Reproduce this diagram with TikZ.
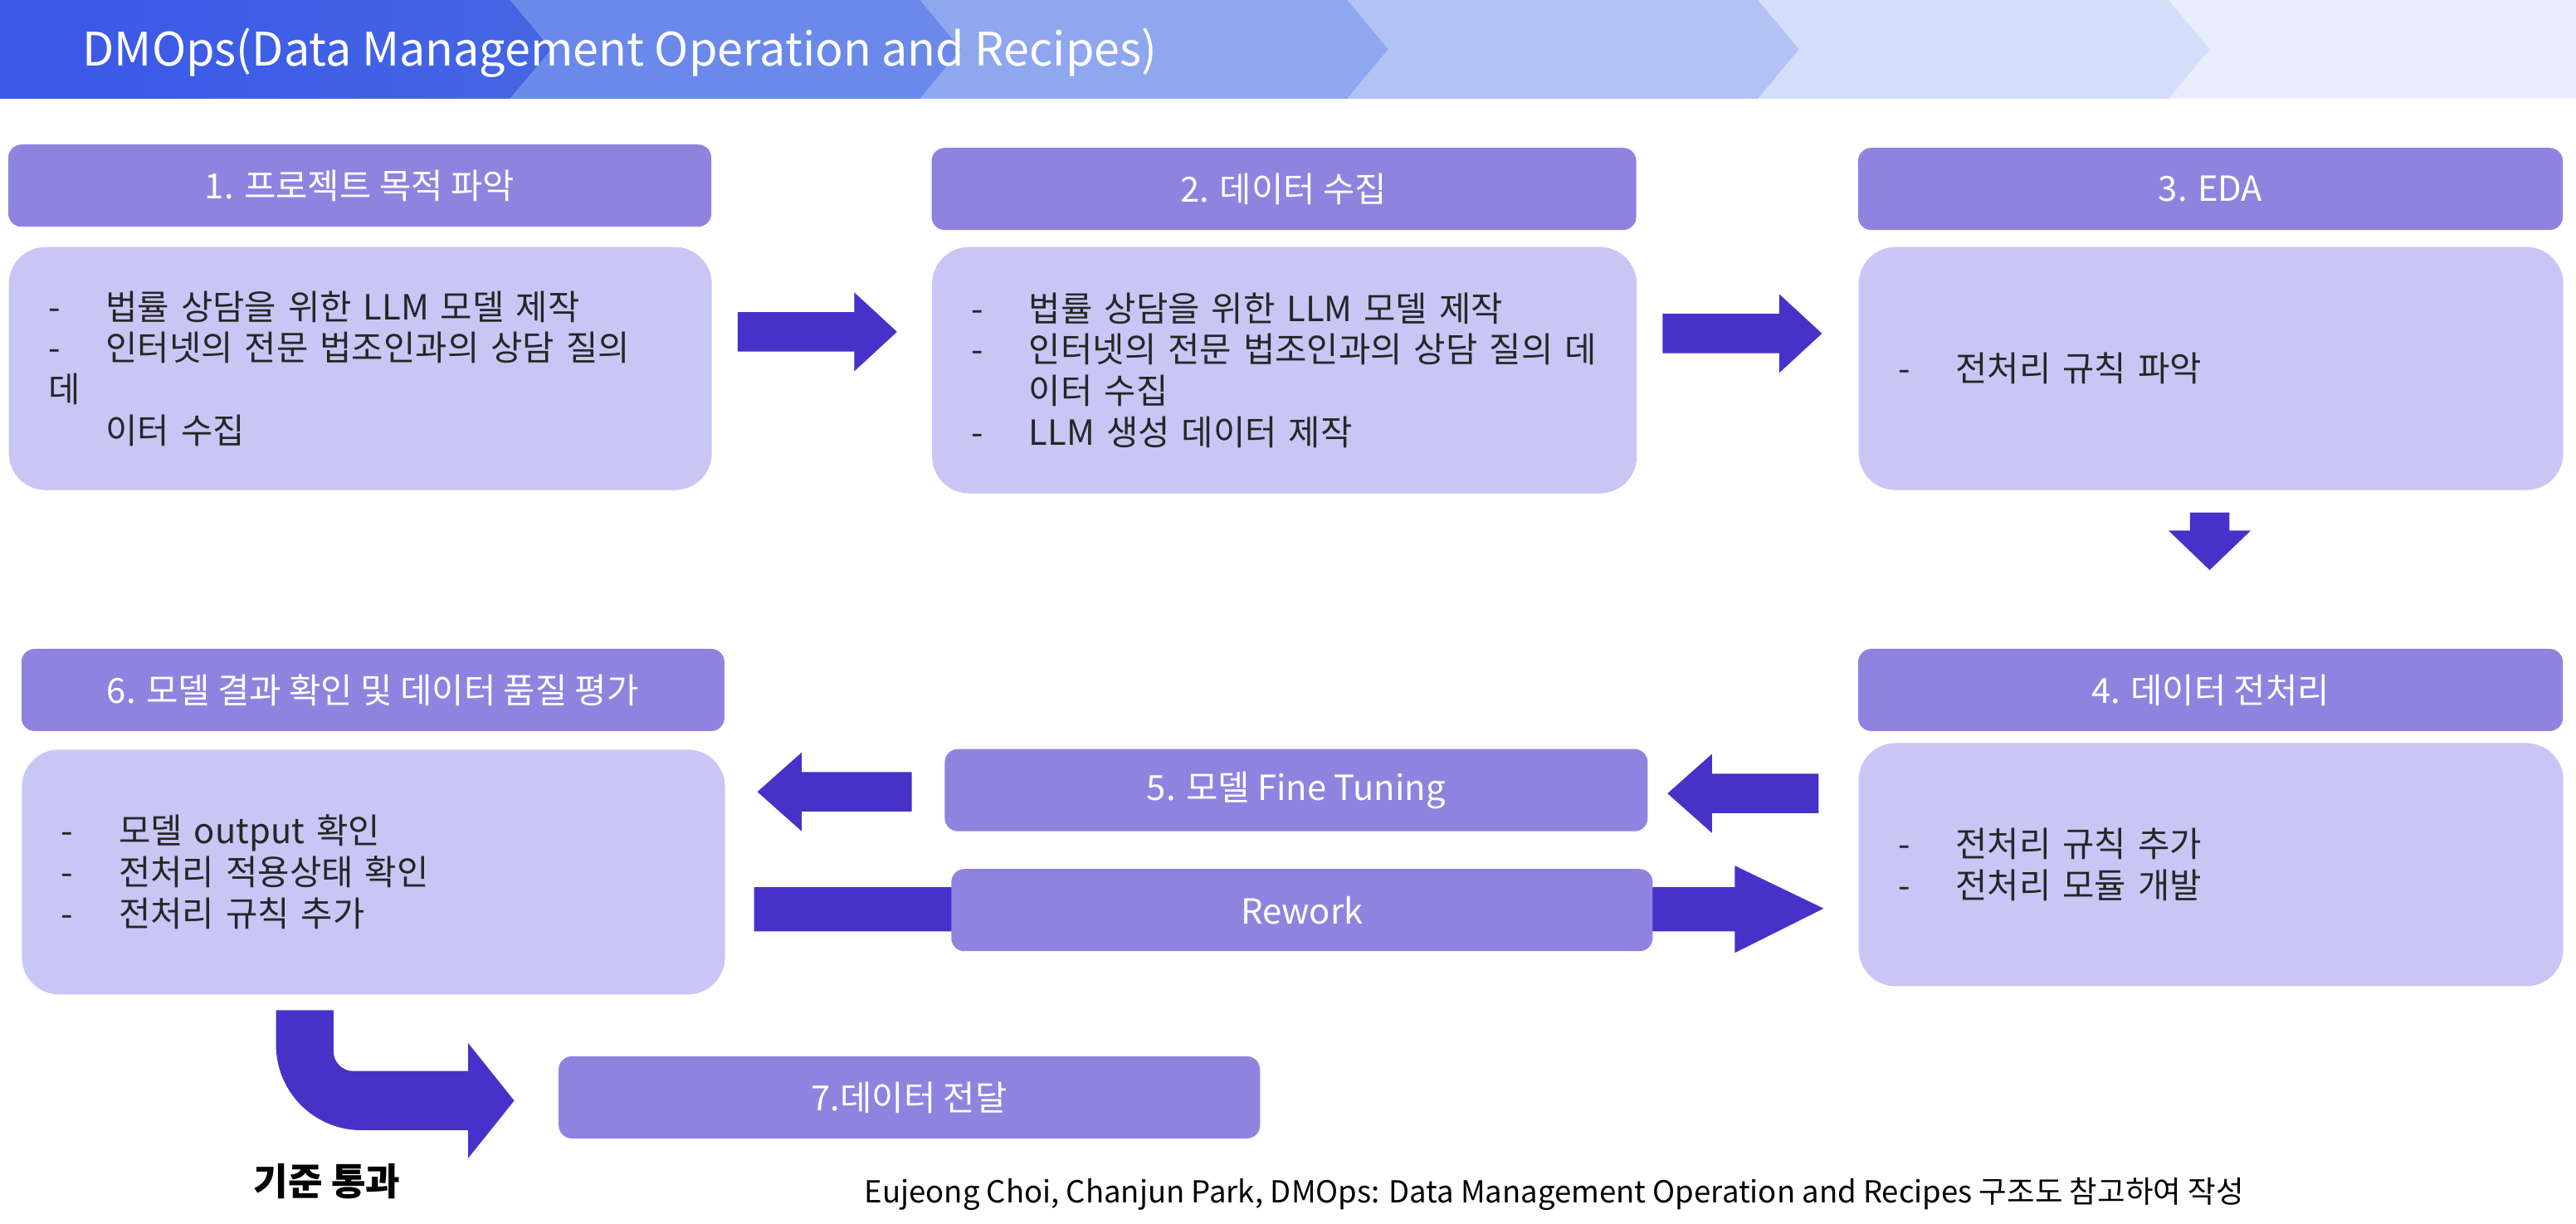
\documentclass[tikz,border=0pt]{standalone}
\usepackage{fontspec}
\setmainfont{Noto Sans CJK KR}
\definecolor{hd}{HTML}{8F83E0}
\definecolor{bd}{HTML}{C9C6F5}
\definecolor{ar}{HTML}{4632C8}
\definecolor{c1}{HTML}{4466E4}
\definecolor{c2}{HTML}{6A89EA}
\definecolor{c3}{HTML}{8EA7EF}
\definecolor{c4}{HTML}{B2C2F4}
\definecolor{c5}{HTML}{D4DDF9}
\definecolor{c6}{HTML}{EAEEFC}
\newcommand{\bl}[1]{\makebox[0.7cm][l]{-}#1}
\newcommand{\ct}{\hspace*{0.7cm}}
\begin{document}
\begin{tikzpicture}[x=0.02cm,y=-0.02cm,
  hdr/.style={fill=hd,rounded corners=0.16cm,minimum height=1cm,text=white,font=\fontsize{12}{14}\selectfont,inner sep=0},
  body/.style={fill=bd,rounded corners=0.45cm,text=black!85,font=\fontsize{12}{14.3}\selectfont,align=left,inner xsep=0.48cm,inner ysep=0,anchor=north west},
  blk/.style={fill=ar,draw=none}]
\useasboundingbox (0,0) rectangle (1568,745);
% header chevrons
\fill[c6] (1320,0) -- (1568,0) -- (1568,60) -- (1320,60) -- (1345,30) -- cycle;
\fill[c5] (1070,0) -- (1320,0) -- (1345,30) -- (1320,60) -- (1070,60) -- (1095,30) -- cycle;
\fill[c4] (820,0) -- (1070,0) -- (1095,30) -- (1070,60) -- (820,60) -- (845,30) -- cycle;
\fill[c3] (560,0) -- (820,0) -- (845,30) -- (820,60) -- (560,60) -- (585,30) -- cycle;
\fill[c2] (310,0) -- (560,0) -- (585,30) -- (560,60) -- (310,60) -- (335,30) -- cycle;
\fill[left color=c1!85!blue, right color=c1] (0,0) -- (310,0) -- (335,30) -- (310,60) -- (0,60) -- cycle;
\node[anchor=west,text=white,font=\fontsize{16}{18}\selectfont,inner sep=0] (title) at (50,32) {DMOps(Data Management Operation and Recipes)};
% headers
\node[hdr,minimum width=8.56cm] (h1) at (219,113) {1. 프로젝트 목적 파악};
\node[hdr,minimum width=8.58cm] (h2) at (781.5,115) {2. 데이터 수집};
\node[hdr,minimum width=8.58cm] (h3) at (1345.5,115) {3. EDA};
\node[hdr,minimum width=8.56cm] (h6) at (227,420) {6. 모델 결과 확인 및 데이터 품질 평가};
\node[hdr,minimum width=8.58cm] (h4) at (1345.5,420) {4. 데이터 전처리};
% bodies
\node[body,text width=7.6cm,minimum width=8.56cm,minimum height=2.96cm] (b1) at (5,150) {\bl{법률 상담을 위한 LLM 모델 제작}\\\bl{인터넷의 전문 법조인과의 상담 질의 데}\\\ct 이터 수집};
\node[body,text width=7.62cm,minimum width=8.58cm,minimum height=3cm] (b2) at (567,150) {\bl{법률 상담을 위한 LLM 모델 제작}\\\bl{인터넷의 전문 법조인과의 상담 질의 데}\\\ct 이터 수집\\\bl{LLM 생성 데이터 제작}};
\node[body,text width=7.62cm,minimum width=8.58cm,minimum height=2.96cm] (b3) at (1131,150) {\bl{전처리 규칙 파악}};
\node[body,text width=7.6cm,minimum width=8.56cm,minimum height=2.98cm] (b6) at (13,456) {\bl{모델 output 확인}\\\bl{전처리 적용상태 확인}\\\bl{전처리 규칙 추가}};
\node[body,text width=7.62cm,minimum width=8.58cm,minimum height=2.96cm] (b4) at (1131,452) {\bl{전처리 규칙 추가}\\\bl{전처리 모듈 개발}};
% arrows
\fill[blk] (449,190) -- (520,190) -- (520,178) -- (546,202) -- (520,226) -- (520,214) -- (449,214) -- cycle;
\fill[blk] (1012,191) -- (1083,191) -- (1083,179) -- (1109,203) -- (1083,227) -- (1083,215) -- (1012,215) -- cycle;
\fill[blk] (1333,312) -- (1357,312) -- (1357,323) -- (1370,323) -- (1345,347) -- (1320,323) -- (1333,323) -- cycle;
\fill[blk] (1107,471) -- (1042,471) -- (1042,459) -- (1015,483) -- (1042,507) -- (1042,495) -- (1107,495) -- cycle;
\fill[blk] (555,470) -- (488,470) -- (488,458) -- (461,482) -- (488,506) -- (488,494) -- (555,494) -- cycle;
\fill[blk] (459,540) -- (1056,540) -- (1056,527) -- (1110,553) -- (1056,580) -- (1056,567) -- (459,567) -- cycle;
\node[hdr,minimum width=8.56cm] (n5) at (789,481) {5. 모델 Fine Tuning};
\node[hdr,minimum width=8.54cm] (rw) at (792.5,554) {Rework};
\node[hdr,minimum width=8.54cm] (n7) at (553.5,668) {7.데이터 전달};
% curved arrow
\fill[blk] (168,615) -- (203,615) -- (203,640) arc[start angle=180,end angle=90,radius=12] -- (285,652) -- (285,635) -- (313,670) -- (285,705) -- (285,688) -- (220,688) arc[start angle=90,end angle=180,radius=52] -- cycle;
\node[font=\bfseries\fontsize{13}{15}\selectfont,inner sep=0] (pass) at (199,719) {기준 통과};
\node[font=\fontsize{10.5}{12}\selectfont,inner sep=0] (cite) at (946,727) {Eujeong Choi, Chanjun Park, DMOps: Data Management Operation and Recipes 구조도 참고하여 작성};
\end{tikzpicture}
\end{document}
